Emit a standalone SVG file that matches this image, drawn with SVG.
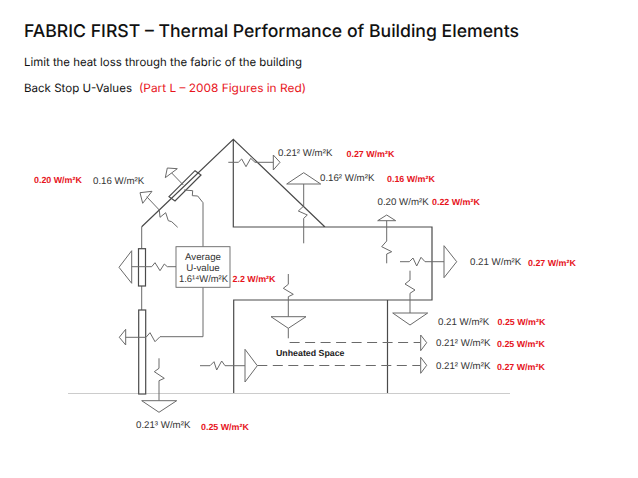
<svg xmlns="http://www.w3.org/2000/svg" width="638" height="478" viewBox="0 0 638 478">
<style>
text{font-family:"Liberation Sans",Arial,sans-serif;white-space:pre;text-rendering:geometricPrecision}
.h{font-family:Inter,"Liberation Sans",sans-serif;fill:#111}
.l{font-size:9.7px;fill:#333}
.r{font-size:8.9px;font-weight:bold;fill:#e6141c}
.s{fill:none;stroke:#4a4a4a;stroke-width:1.2}
.t{fill:none;stroke:#6a6a6a;stroke-width:1;stroke-linejoin:miter}
.d{fill:none;stroke:#6a6a6a;stroke-width:1;stroke-dasharray:10 5.5}
</style>
<rect width="638" height="478" fill="#fff"/>
<text class="h" x="24" y="36.5" font-size="17.5" font-weight="500" textLength="495" lengthAdjust="spacingAndGlyphs">FABRIC FIRST – Thermal Performance of Building Elements</text>
<text class="h" x="24" y="66" font-size="11.5" textLength="278" lengthAdjust="spacingAndGlyphs">Limit the heat loss through the fabric of the building</text>
<text class="h" x="24" y="92" font-size="11.5" textLength="108" lengthAdjust="spacingAndGlyphs">Back Stop U-Values</text>
<text class="h" x="139" y="92" font-size="11.5" style="fill:#e8141c" textLength="167" lengthAdjust="spacingAndGlyphs">(Part L – 2008 Figures in Red)</text>
<g id="building">
<line x1="68" y1="393.5" x2="510" y2="393.5" stroke="#ccc" stroke-width="1"/>
<path class="s" d="M141.7 226.7L233.3 139.3L325 227M233.3 139.3V227H432V300H233.7V393M387.5 300V393"/>
<path class="t" d="M141.7 226.7V248.7M141.7 286V310"/>
<path class="s" d="M195 170.7L201 175L175 201L169 196.7Z"/>
<rect class="s" x="138.5" y="248.7" width="7" height="37.3" fill="#fff" style="fill:#fff"/>
<rect class="s" x="138.7" y="310" width="7" height="84" style="fill:#fff"/>
</g>
<g id="connectors">
<path class="t" d="M183.3 185L171.7 173"/><path class="t" d="M165.3 177.7L167.3 168L177.3 168.7Z"/>
<path class="t" d="M184 190L192.7 190.7L192.3 195.7L197.7 196L203 202.7V246.7M203 287.3V336.7H160L155 341.7L150 332.7L146 337.3H138"/>
<path class="t" d="M146.7 196.7L159.3 210"/><path class="t" d="M140 192.7L152 191.3L142.7 203.3Z"/>
<path class="t" d="M159.3 210L160 217.3L165.7 212.7L168.3 220.7L171.7 221.7L177.7 227.3"/>
<path class="t" d="M131.7 266.7H151.7L155 262.7L160 270.7L164.3 264L167.3 266.7H176"/><path class="t" d="M119 267.3L131.7 250.7V283.3Z"/>
<path class="t" d="M125.7 337.3H138"/><path class="t" d="M119.3 337.3L125.7 329.3V345Z"/>
<path class="t" d="M159 358.3V368.3L154.3 371.7L164.3 378.3L159 380.7V400.7"/><path class="t" d="M141.7 400.7H176.7L159 412.3Z"/>
<path class="t" d="M228.3 162.3H238.3L241.7 159L246 166.7L250.7 158.3L255 162.3H273.3"/><path class="t" d="M273.3 155V170L280 162.3Z"/>
<path class="t" d="M303.7 184V206L298.3 211L307.3 215L303.7 218.3V243.3"/><path class="t" d="M286.7 184L303.7 172.7L320.7 184Z"/>
<path class="t" d="M386.7 220.7V241L381.7 246.7L391.7 251.7L386.7 254V263.3"/><path class="t" d="M377.7 220.7L386.7 215L395.7 220.7Z"/>
<path class="t" d="M400 261.7H409.3L413 258L416.7 266L421 257.3L425 261.7H444"/><path class="t" d="M444 245.7V277.7L456.7 261.7Z"/>
<path class="t" d="M410 270.7V280L405 284L415 290L410 293.3V313"/><path class="t" d="M392.7 313H427.7L410 325Z"/>
<path class="t" d="M288.3 274V284.3L283.3 288.3L293.3 294.3L288.3 296.7V316.7"/><path class="t" d="M271 316.7H306L288.3 328.3Z"/>
<path class="d" d="M288.3 328.3V342.5H420"/><path class="t" d="M420.7 335V350.7L426.7 342.7Z"/>
<path class="t" d="M200 365.7H210L214 361.7L216.7 370L221.7 361L225 365.7H245"/><path class="t" d="M245 349.3V382L257.3 365.7Z"/>
<path class="d" d="M257.3 365.5H420"/><path class="t" d="M420.7 357.3V373.3L426.7 365.3Z"/>
</g>
<g id="node-average">
<rect x="176" y="246.7" width="54" height="40.6" fill="#fff" stroke="#666" stroke-width=".9"/>
<text class="l" x="203" y="260" text-anchor="middle">Average</text>
<text class="l" x="203" y="271" text-anchor="middle">U-value</text>
<text class="l" x="179" y="282" textLength="49" lengthAdjust="spacingAndGlyphs">1.6¹⁴W/m²K</text>
</g>
<g id="labels">
<text class="r" x="34" y="183">0.20 W/m²K</text>
<text class="l" x="93" y="184">0.16 W/m²K</text>
<text class="r" x="232.5" y="282">2.2 W/m²K</text>
<text class="l" x="278" y="156">0.21² W/m²K</text>
<text class="r" x="346.5" y="157">0.27 W/m²K</text>
<text class="l" x="320" y="181">0.16² W/m²K</text>
<text class="r" x="387" y="181.5">0.16 W/m²K</text>
<text class="l" x="377.5" y="205">0.20 W/m²K</text>
<text class="r" x="432" y="205">0.22 W/m²K</text>
<text class="l" x="470" y="265">0.21 W/m²K</text>
<text class="r" x="528" y="266">0.27 W/m²K</text>
<text class="l" x="438" y="324.5">0.21 W/m²K</text>
<text class="r" x="497.5" y="324.5">0.25 W/m²K</text>
<text class="l" x="436" y="346">0.21² W/m²K</text>
<text class="r" x="497" y="347">0.25 W/m²K</text>
<text class="l" x="436" y="369">0.21² W/m²K</text>
<text class="r" x="497" y="369.5">0.27 W/m²K</text>
<text class="l" x="136" y="428">0.21³ W/m²K</text>
<text class="r" x="201" y="430">0.25 W/m²K</text>
<text x="276" y="356" font-size="8.8" font-weight="bold" fill="#222">Unheated Space</text>
</g>
</svg>
